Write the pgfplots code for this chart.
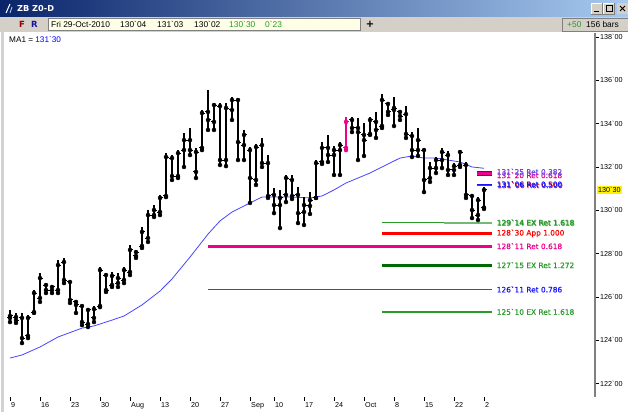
\documentclass[border=0pt]{standalone}
\usepackage{pgfplots}
\pgfplotsset{compat=1.18}
\usepackage{pgfplotstable}
\usepackage{fontspec}
\newfontfamily\dv{DejaVu Sans}
\newfontfamily\dvb[FakeBold=0.6]{DejaVu Sans}
\newfontfamily\ls{Liberation Sans}
\definecolor{mablue}{RGB}{70,70,255}
\definecolor{fblue}{RGB}{20,20,255}
\definecolor{lblue}{RGB}{60,60,255}
\definecolor{fgreen}{RGB}{40,155,40}
\definecolor{lgreen}{RGB}{115,185,115}
\definecolor{dgreen}{RGB}{0,105,0}
\definecolor{tbgray}{RGB}{212,208,200}
\definecolor{axgray}{RGB}{128,128,128}
\definecolor{tyellow}{RGB}{255,255,232}
\definecolor{tdark}{RGB}{10,36,106}
\definecolor{tlight}{RGB}{166,202,240}

\pgfplotstableread{
i O H L C
0 125.03 125.40 124.84 125.12
1 125.07 125.26 124.80 124.93
2 125.03 125.26 123.87 124.10
3 124.20 125.17 124.10 125.03
4 125.30 126.32 125.26 126.18
5 125.95 127.10 125.77 126.87
6 126.55 126.64 126.18 126.32
7 126.32 126.55 126.18 126.46
8 126.32 127.70 126.18 127.47
9 127.61 127.80 126.64 126.78
10 126.69 126.78 125.72 125.86
11 125.77 125.86 125.26 125.63
12 125.58 125.63 124.70 124.84
13 124.75 125.49 124.61 125.40
14 125.03 125.58 124.84 125.44
15 125.58 127.38 125.53 127.24
16 127.01 127.10 126.23 126.32
17 126.55 127.15 126.46 126.97
18 126.64 127.10 126.46 126.87
19 126.78 127.38 126.64 127.24
20 127.15 128.40 127.01 128.17
21 127.89 128.17 127.80 128.07
22 128.35 129.23 128.26 129.00
23 128.72 130.01 128.54 129.78
24 129.78 130.24 129.69 130.01
25 129.92 130.71 129.78 130.57
26 130.66 132.64 130.61 132.46
27 132.41 132.55 131.40 131.58
28 131.58 132.78 131.49 132.64
29 132.78 133.57 132.00 133.24
30 133.24 133.80 132.55 132.78
31 131.77 132.88 131.49 132.69
32 132.88 134.63 132.78 134.49
33 134.54 135.55 133.71 134.17
34 134.08 134.95 133.71 134.86
35 134.81 134.95 132.09 132.32
36 132.32 134.95 132.04 134.72
37 134.63 135.23 134.17 135.09
38 135.09 135.18 132.32 133.15
39 133.01 133.71 132.32 133.48
40 132.78 132.92 130.34 131.49
41 131.40 133.06 131.17 132.92
42 133.01 133.34 132.00 132.18
43 132.18 132.55 130.57 130.66
44 130.71 131.03 129.87 130.24
45 130.24 130.94 129.18 130.57
46 130.71 131.63 130.38 131.49
47 131.40 131.63 130.52 130.66
48 130.71 131.07 129.41 129.87
49 129.92 130.61 129.32 130.24
50 130.20 130.84 129.83 130.47
51 130.57 132.32 130.57 132.18
52 132.23 133.15 132.14 132.88
53 132.88 133.48 132.23 132.55
54 132.55 132.97 131.63 132.78
55 132.78 133.15 131.63 133.01
57 134.17 134.31 133.61 133.80
58 133.80 134.26 132.32 133.61
59 133.48 134.03 132.51 133.24
60 133.52 134.31 133.48 134.17
61 134.08 134.54 133.34 133.71
62 133.89 135.37 133.80 135.09
63 134.91 134.95 134.40 134.54
64 134.63 135.23 133.89 134.72
65 134.54 134.63 134.17 134.35
66 134.44 134.81 133.34 133.52
67 133.43 133.61 132.46 132.78
68 132.78 133.80 132.51 133.24
69 132.78 132.88 130.84 131.40
70 131.49 132.23 131.31 131.95
71 131.95 132.46 131.72 132.32
72 132.32 132.88 131.95 132.69
73 132.55 132.74 131.63 131.86
74 131.86 132.18 131.63 132.04
75 132.09 132.78 132.00 132.69
76 132.09 132.23 130.57 130.71
77 130.66 130.75 129.64 130.01
78 129.78 130.61 129.55 130.47
79 130.125 131.094 130.0625 130.9375
}\ohlc

\pgfplotstableread{
i O H L C
56 132.88 134.31 132.78 134.08
}\ohlcm

\pgfplotstableread{
i ma
0 123.18
2 123.32
5 123.69
8 124.15
12 124.56
14 124.66
17 124.93
19 125.12
22 125.63
25 126.27
27 126.83
30 127.84
33 128.90
35 129.51
37 129.92
40 130.34
42 130.61
44 130.61
47 130.61
50 130.57
52 130.66
54 130.94
56 131.26
58 131.49
60 131.72
62 132.00
65 132.41
67 132.51
69 132.41
71 132.41
73 132.32
75 132.23
77 132.00
79 131.94
}\matab

\newcommand\fs[1]{\fontsize{#1}{#1}\selectfont}

\begin{document}
\begin{tikzpicture}[x=1pt,y=1pt]
\useasboundingbox (0,0) rectangle (628,-412);
\fill[white] (0,0) rectangle (628,-412);
% title bar
\shade[left color=tdark, right color=tlight] (0,0) rectangle (628,-17);
\draw[white, line width=1pt] (6,-13) -- (10,-4);
\draw[tlight, line width=0.8pt] (10,-13) -- (12,-7);
\node[anchor=west, text=white, font=\dv\bfseries\fs{8.2}, inner sep=0pt] at (17,-9) {ZB Z0-D};
\foreach \bx in {591,603}{\fill[tbgray] (\bx,-3) rectangle (\bx+11,-14); \draw[white] (\bx,-14) -- (\bx,-3) -- (\bx+11,-3); \draw[gray] (\bx,-14) -- (\bx+11,-14) -- (\bx+11,-3);}
\fill[tbgray] (617,-3) rectangle (628,-14);
\draw[black, line width=0.8pt] (594,-11.5) -- (599,-11.5);
\draw[black, line width=0.6pt] (606,-5.5) rectangle (612,-11.5);
\draw[black, line width=0.8pt] (620,-6) -- (625,-11) (625,-6) -- (620,-11);
% toolbar
\fill[tbgray] (0,-17) rectangle (628,-32);
\node[anchor=west, text={rgb,255:red,150;green,0;blue,0}, font=\dv\bfseries\fs{8.5}, inner sep=0pt] at (19,-24.8) {F};
\node[anchor=west, text={rgb,255:red,20;green,20;blue,160}, font=\dv\bfseries\fs{8.5}, inner sep=0pt] at (31,-24.8) {R};
\draw[fill=tyellow, draw=gray] (48.5,-18.5) rectangle (360,-30.5);
\node[anchor=west, font=\ls\fs{8.4}, inner sep=0pt] at (51,-24.8) {Fri 29-Oct-2010};
\node[anchor=west, font=\ls\fs{8.4}, inner sep=0pt] at (120,-24.8) {130`04};
\node[anchor=west, font=\ls\fs{8.4}, inner sep=0pt] at (157,-24.8) {131`03};
\node[anchor=west, font=\ls\fs{8.4}, inner sep=0pt] at (194,-24.8) {130`02};
\node[anchor=west, font=\ls\fs{8.4}, text=fgreen, inner sep=0pt] at (229,-24.8) {130`30};
\node[anchor=west, font=\ls\fs{8.4}, text=fgreen, inner sep=0pt] at (265,-24.8) {0`23};
\node[font=\dv\bfseries\fs{10}, inner sep=0pt] at (370,-24.5) {+};
\draw[fill=tbgray, draw=gray] (562,-18) rectangle (629,-31);
\node[anchor=west, font=\ls\fs{8.4}, text=fgreen, inner sep=0pt] at (567,-24.8) {+50};
\node[anchor=west, font=\ls\fs{8.4}, inner sep=0pt] at (586,-24.8) {156 bars};
% left border
\fill[gray!35] (0.5,-32) rectangle (3.5,-412);
% MA1 text
\node[anchor=west, font=\ls\fs{8.2}, inner sep=0pt] at (9,-40) {MA1 = \textcolor{blue}{131`30}};

\begin{axis}[
  at={(4pt,-397pt)}, anchor=south west,
  scale only axis, width=591pt, height=363.9pt,
  xmin=-1, xmax=97.5, ymin=121.38, ymax=138.18,
  axis x line*=bottom, axis y line*=right,
  x axis line style={draw=none},
  y axis line style={-, draw=axgray, line width=2pt},
  clip=false,
  tick align=outside, major tick length=4pt,
  tick style={black, line width=0.5pt},
  xtick={0,5,10,15,20,25,30,35,40,44,49,54,59,64,69,74,79},
  xticklabels={9,16,23,30,Aug,13,20,27,Sep,10,17,24,Oct,8,15,22,2},
  xticklabel style={font=\ls\fs{7.2}, anchor=north west, inner sep=0pt, xshift=1pt, yshift=-1pt},
  ytick={122,124,126,128,130,132,134,136,138},
  yticklabels={122`00,124`00,126`00,128`00,130`00,132`00,134`00,136`00,138`00},
  yticklabel style={font=\ls\fs{7.2}, anchor=west, inner sep=1pt},
]
% Fibonacci levels
\addplot[fgreen, line width=1.4pt] coordinates {(62,129.4375) (80.3,129.4375)};
\addplot[lgreen, line width=2.4pt] coordinates {(72.3,129.41) (80.3,129.41)};
\addplot[red, line width=2.8pt] coordinates {(62,128.9375) (80.3,128.9375)};
\addplot[magenta, line width=2.8pt] coordinates {(33,128.34375) (80.3,128.34375)};
\addplot[dgreen, line width=2.8pt] coordinates {(62,127.46875) (80.3,127.46875)};
\addplot[lblue, line width=1.5pt] coordinates {(33,126.34375) (80.3,126.34375)};
\addplot[fgreen, line width=1.5pt] coordinates {(62,125.3125) (80.3,125.3125)};
\addplot[magenta, line width=3.6pt] coordinates {(77.8,131.70) (80.3,131.70)};
\addplot[fblue, line width=0.8pt] coordinates {(77.8,131.78125) (80.3,131.78125)};
\addplot[fblue, line width=0.8pt] coordinates {(77.8,131.62) (80.3,131.62)};
\addplot[red, line width=1.8pt] coordinates {(77.8,131.16) (80.3,131.16)};
\addplot[fblue, line width=1pt] coordinates {(77.8,131.21) (80.3,131.21)};
% moving average
\addplot[mablue, line width=0.8pt] table[x=i, y=ma] {\matab};
% OHLC bars
\addplot[only marks, mark=none, black, error bars/.cd, y dir=plus, y explicit, error mark=none, error bar style={line width=1.6pt, black}] table[x=i, y=L, y error expr=\thisrow{H}-\thisrow{L}] {\ohlc};
\addplot[only marks, mark=none, black, error bars/.cd, x dir=minus, x fixed=0.5, error mark=none, error bar style={line width=1pt, black}] table[x=i, y=O] {\ohlc};
\addplot[only marks, mark=none, black, error bars/.cd, x dir=plus, x fixed=0.5, error mark=none, error bar style={line width=1pt, black}] table[x=i, y=C] {\ohlc};
\addplot[only marks, mark=none, magenta, error bars/.cd, y dir=plus, y explicit, error mark=none, error bar style={line width=1.6pt, magenta}] table[x=i, y=L, y error expr=\thisrow{H}-\thisrow{L}] {\ohlcm};
\addplot[only marks, mark=none, magenta, error bars/.cd, x dir=minus, x fixed=0.5, error mark=none, error bar style={line width=1pt, magenta}] table[x=i, y=O] {\ohlcm};
\addplot[only marks, mark=none, magenta, error bars/.cd, x dir=plus, x fixed=0.5, error mark=none, error bar style={line width=1pt, magenta}] table[x=i, y=C] {\ohlcm};
% level labels
\tikzset{lab/.style={anchor=west, font=\dvb\fs{7.4}, inner sep=0pt}}
\node[lab, text=magenta] at (axis cs:81.1,131.62) {131`20 Ret 0.618};
\node[lab, text={rgb,255:red,110;green,70;blue,230}] at (axis cs:81.1,131.78) {131`25 Ret 0.382};
\node[lab, text=red] at (axis cs:81.2,131.16) {131`06 Ret 0.500};
\node[lab, text=fblue] at (axis cs:81.1,131.21) {131`06 Ret 0.500};
\node[lab, text=lgreen] at (axis cs:81.2,129.41) {129`14 EX Ret 1.618};
\node[lab, text=fgreen] at (axis cs:81.1,129.44) {129`14 EX Ret 1.618};
\node[lab, text=red] at (axis cs:81.1,128.9375) {128`30 App 1.000};
\node[lab, text=magenta] at (axis cs:81.1,128.34375) {128`11 Ret 0.618};
\node[lab, text=fgreen] at (axis cs:81.1,127.46875) {127`15 EX Ret 1.272};
\node[lab, text=fblue] at (axis cs:81.1,126.34375) {126`11 Ret 0.786};
\node[lab, text=fgreen] at (axis cs:81.1,125.3125) {125`10 EX Ret 1.618};
% current price tag
\node[anchor=west, fill=yellow, font=\ls\fs{7.2}, inner sep=1pt, xshift=2pt] at (axis cs:97.5,130.9375) {130`30};
\end{axis}
\end{tikzpicture}
\end{document}
